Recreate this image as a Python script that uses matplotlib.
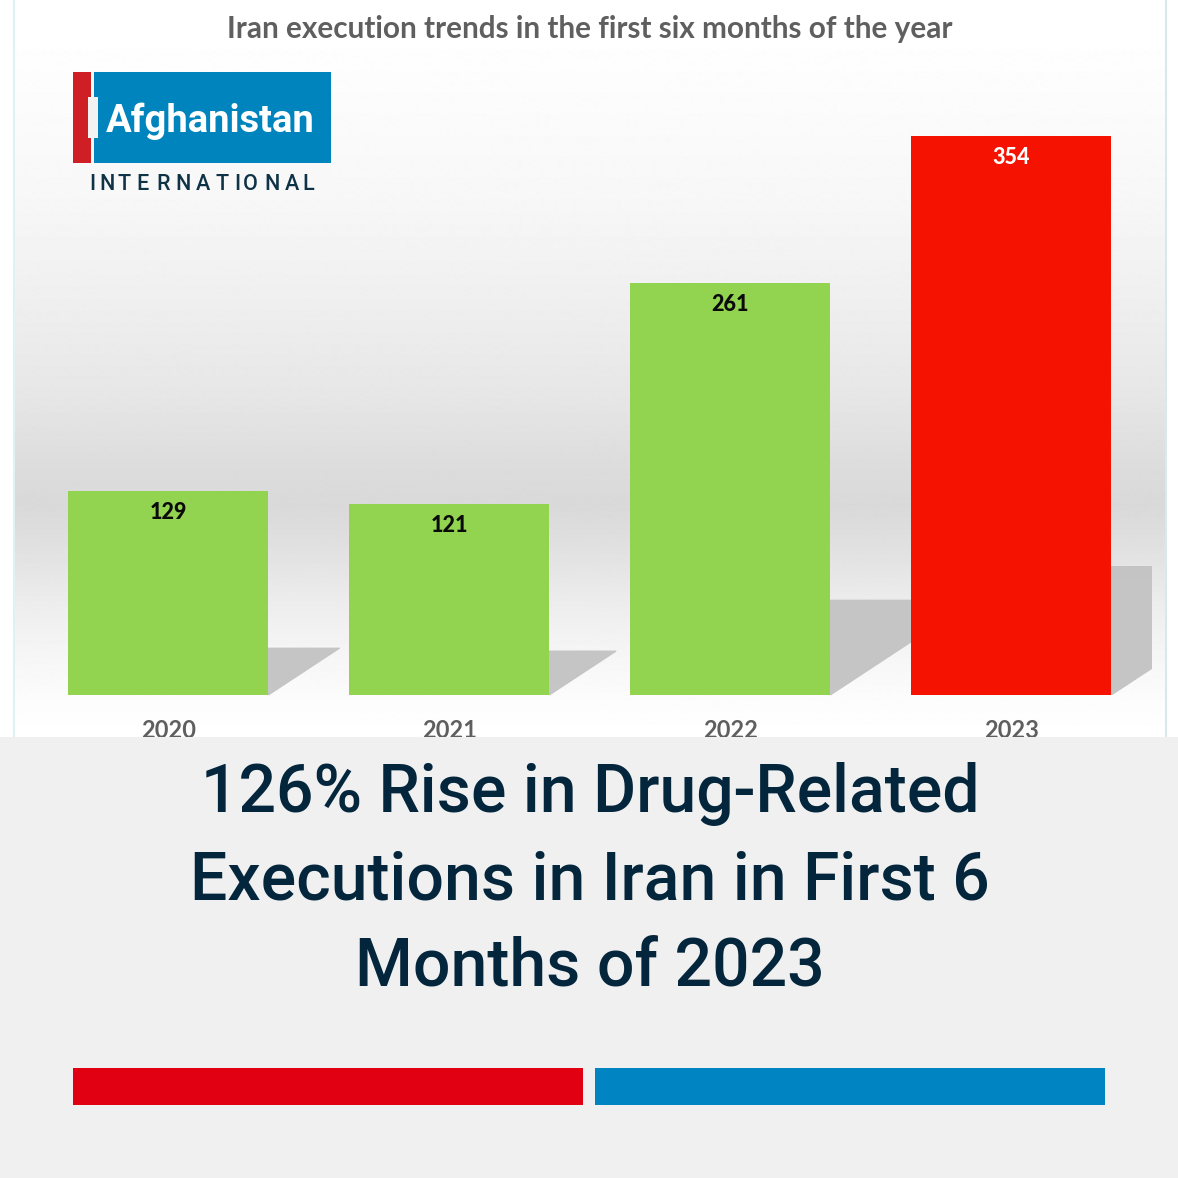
import numpy as np
import matplotlib
matplotlib.use("Agg")
import matplotlib.pyplot as plt
from matplotlib.patches import Rectangle, Polygon

years = ["2020", "2021", "2022", "2023"]
executions = [129, 121, 261, 354]
bar_colors = ["#92d350", "#92d350", "#92d350", "#f61200"]
label_colors = ["#0a0a0a", "#0a0a0a", "#0a0a0a", "#ffffff"]

title = "Iran execution trends in the first six months of the year"
headline = ["126% Rise in Drug-Related", "Executions in Iran in First 6", "Months of 2023"]

# background shading of the chart panel, pixel row -> grey level
bg_rows = [0, 50, 200, 300, 400, 460, 505, 540, 600, 650, 700, 737]
bg_grey = [255, 254, 247, 239, 230, 221, 217, 223, 236, 245, 252, 255]

W = 1178
fig = plt.figure(figsize=(W / 100, W / 100), dpi=100, facecolor="white")

# page layer in pixel coordinates
page = fig.add_axes([0, 0, 1, 1], zorder=1)
page.set_xlim(0, W); page.set_ylim(W, 0); page.axis("off")

# panel gradient
rows = np.arange(0, 738)
grey = np.interp(rows, bg_rows, bg_grey) / 255
page.imshow(grey[:, None], cmap="gray", vmin=0, vmax=1, aspect="auto",
            extent=(14, 1166, 737, 0), interpolation="bilinear", zorder=1)
page.set_xlim(0, W); page.set_ylim(W, 0)
page.plot([14, 14], [0, 737], color="#dff1f3", lw=1.5, zorder=2)
page.plot([1166, 1166], [0, 737], color="#d8e8ee", lw=1.5, zorder=2)

page.text(590, 29, title, ha="center", va="center", fontsize=21.4,
          family="Lato", fontweight="bold", color="#5f5f5f", zorder=3)

# ── Bars ──────────────────────────────────────────────────────────────────
ax = fig.add_axes([14 / W, 1 - 695 / W, 1152 / W, 559 / W], zorder=2)
ax.patch.set_alpha(0)
ax.set_xlim(-0.5495, 3.5502); ax.set_ylim(0, 354)
ax.axis("off")

width = 200 / 281
x = np.arange(len(years))
for i, v in enumerate(executions):
    # slanted floor shadow behind each bar
    right = x[i] + width / 2
    h = v * 0.23
    tip = right + h * 1.579 * 1.52 / 281
    sh = Polygon([(right, 0), (tip, h), (right, h)], closed=True, fc="#c3c3c3",
                 ec="#c3c3c3", lw=0.8, alpha=0.95, zorder=1, clip_on=False)
    ax.add_patch(sh)
    # the last shadow stops short of the panel edge
    if i == len(years) - 1:
        sh.set_clip_path(Rectangle((right, 0), 41 / 281, h, transform=ax.transData))
        sh.set_clip_on(True)

bars = ax.bar(x, executions, width=width, color=bar_colors, linewidth=0, zorder=3)
for bar, v, c in zip(bars, executions, label_colors):
    ax.annotate(str(v), (bar.get_x() + bar.get_width() / 2, v), xytext=(0, -15.5),
                textcoords="offset points", ha="center", va="center", fontsize=15.5,
                family="Lato", fontweight="black", color=c, zorder=4)
for xi, yr in zip(x, years):
    ax.annotate(yr, (xi, 0), xytext=(0, -25.5), textcoords="offset points", ha="center",
                va="center", fontsize=17, family="Lato", fontweight="bold",
                color="#5f5f5f", zorder=0, annotation_clip=False)

# top layer: logo and lower band
top = fig.add_axes([0, 0, 1, 1], zorder=3)
top.set_xlim(0, W); top.set_ylim(W, 0); top.axis("off")

# logo
top.add_patch(Rectangle((73, 163), 258, 33, fc="#f8f8f8", ec="none"))
top.add_patch(Rectangle((73, 72), 18, 91, fc="#cf1f24", ec="none"))
top.add_patch(Rectangle((94, 72), 237, 91, fc="#0084bd", ec="none"))
top.add_patch(Rectangle((88, 97), 10, 41, fc="#f2f2f2", ec="none"))
top.text(106, 121, "Afghanistan", ha="left", va="center", fontsize=27.5,
         family="Roboto", fontweight="bold", color="white")
letter_x = [92, 107, 124, 143, 163, 183, 203, 222, 237, 250, 272, 292, 308]
for cx, ch in zip(letter_x, "INTERNATIONAL"):
    top.text(cx, 184, ch, ha="center", va="center", fontsize=15.5,
             family="Roboto", fontweight="medium", color="#0f3346")

# lower band
top.add_patch(Rectangle((0, 737), W, W - 737, fc="#f0f0f0", ec="none"))
for y, line in zip([794, 881, 968], headline):
    top.text(590, y, line, ha="center", va="center", fontsize=47.6,
             family="Roboto", fontweight="medium", color="#04263c")
top.add_patch(Rectangle((73, 1068), 510, 37, fc="#e00012", ec="none"))
top.add_patch(Rectangle((595, 1068), 510, 37, fc="#0084c2", ec="none"))

fig.savefig("out.png", dpi=100)
